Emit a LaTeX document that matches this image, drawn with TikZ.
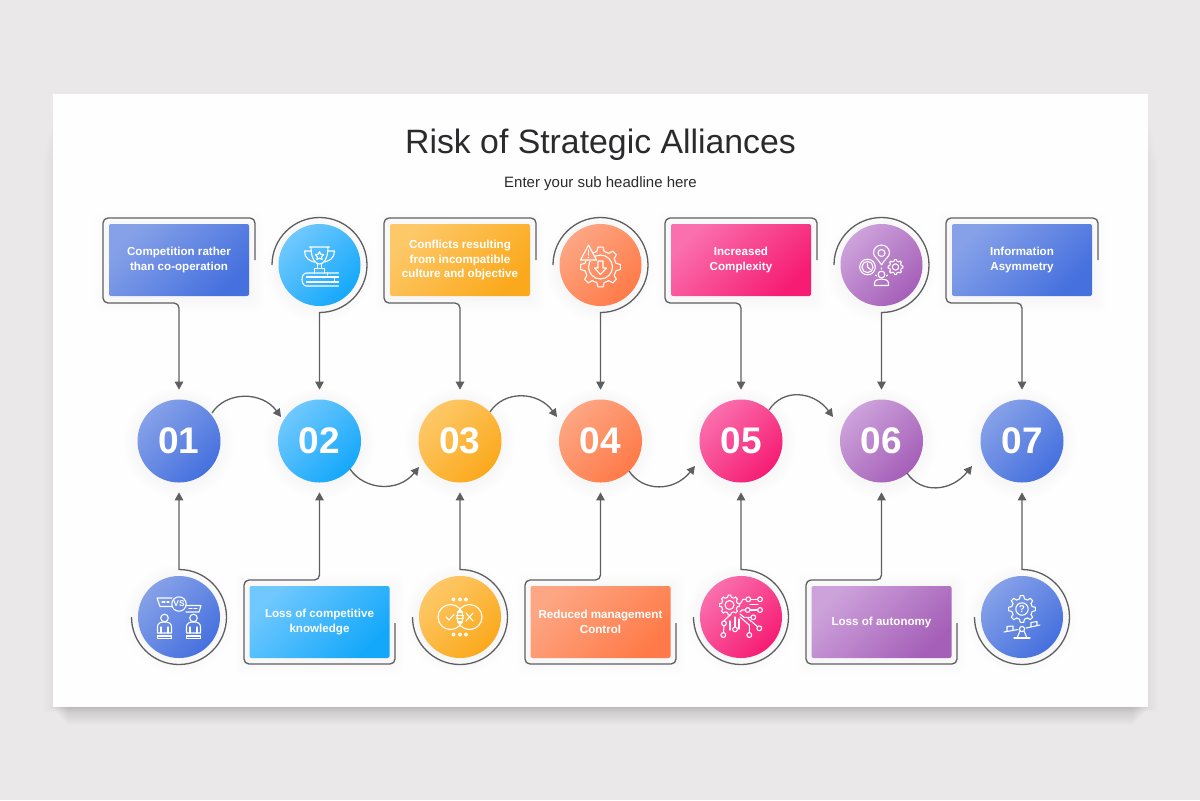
\documentclass[tikz,border=0pt]{standalone}
\usepackage{fontspec}
\setmainfont{Liberation Sans}
\usetikzlibrary{arrows.meta,calc}
\definecolor{bgc}{HTML}{EAE8E9}
\definecolor{linec}{HTML}{5F5F62}
\definecolor{titlec}{HTML}{2B2B2E}
\definecolor{aL}{HTML}{86A1E8}\definecolor{aD}{HTML}{4570DE}
\definecolor{bL}{HTML}{70C8FE}\definecolor{bD}{HTML}{14A8FA}
\definecolor{cL}{HTML}{FDC868}\definecolor{cD}{HTML}{FBA91C}
\definecolor{dL}{HTML}{FDA683}\definecolor{dD}{HTML}{FF7A48}
\definecolor{eL}{HTML}{FA6FAD}\definecolor{eD}{HTML}{F61C74}
\definecolor{fL}{HTML}{CDA2DB}\definecolor{fD}{HTML}{A55FB8}
\tikzset{
 x=0.5pt,y=-0.5pt,
 grad/.style 2 args={top color=#1,bottom color=#2,shading angle=45},
 numc/.style={circle,minimum size=41.5pt,inner sep=0pt,text=white,font=\bfseries\fontsize{18.5}{19}\selectfont},
 iconc/.style={circle,minimum size=41pt,inner sep=0pt},
 boxn/.style={rectangle,minimum width=70pt,minimum height=36pt,inner sep=0pt,rounded corners=1pt,text=white,align=center,font=\bfseries\fontsize{5.8}{7.25}\selectfont},
 conn/.style={draw=linec,line width=0.65pt},
 arr/.style={conn,-{Triangle[length=4pt,width=4.2pt]},shorten >=4.7pt},
 arc2/.style={conn,-{Triangle[length=4pt,width=4.2pt]}},
 ic/.style={draw=white,line width=0.55pt,line join=round,line cap=round},
}
% soft shadow helpers
\newcommand{\shc}[3]{\foreach \k in {1,...,7}{\fill[black,opacity=0.004] (#1,#2+2) circle[radius=#3+2*\k];}}
\newcommand{\shr}[2]{\foreach \k in {1,...,7}{\fill[black,opacity=0.004,rounded corners=2pt] (#1-70-2*\k,#2-36-2*\k+2) rectangle (#1+70+2*\k,#2+36+2*\k+2);}}
% gear: cx cy rOut rIn teeth
\newcommand{\geardraw}[5]{\foreach \i in {1,...,#5}{
 \pgfmathsetmacro{\aa}{\i*360/#5}
 \pgfmathsetmacro{\st}{360/#5}
 \draw[ic] (#1,#2) ++(\aa-0.16*\st:#3) arc[start angle=\aa-0.16*\st,end angle=\aa+0.16*\st,radius=#3] -- ($(#1,#2)+(\aa+0.30*\st:#4)$) arc[start angle=\aa+0.30*\st,end angle=\aa+0.70*\st,radius=#4] -- ($(#1,#2)+(\aa+0.84*\st:#3)$);
}}
\begin{document}
\begin{tikzpicture}
\useasboundingbox (0,0) rectangle (1200,800);
\fill[bgc] (0,0) rectangle (1200,800);
% panel shadow: strong below, faint at the sides, both fading out
\foreach \k in {1,...,18}{\fill[black,opacity=0.008] (50+\k,707) rectangle (1151-\k,707+\k);}
\foreach \k in {1,...,10}{
 \fill[black,opacity=0.003] (53-\k,110+\k*5) rectangle (1148+\k,707+\k*0.5);
}
\fill[white!99.6!black] (53,94) rectangle (1148,707);

\node[text=titlec,font=\fontsize{16.9}{20}\selectfont,inner sep=0pt] (title) at (600.5,145) {Risk of Strategic Alliances};
\node[text=titlec,font=\fontsize{7.5}{9}\selectfont,inner sep=0pt] (sub) at (600.5,184) {Enter your sub headline here};

% shadows
\foreach \x in {179,319.5,460,600.5,741,881.5,1022}{\shc{\x}{441}{41.5}}
\foreach \x in {319.5,600.5,881.5}{\shc{\x}{265}{41}}
\foreach \x in {179,460,741,1022}{\shc{\x}{617}{41}}
\foreach \x in {179,460,741,1022}{\shr{\x}{260}}
\foreach \x in {319.5,600.5,881.5}{\shr{\x}{622}}

% numbered circles
\node[numc,grad={aL}{aD}] (n1) at (179,441) {01};
\node[numc,grad={bL}{bD}] (n2) at (319.5,441) {02};
\node[numc,grad={cL}{cD}] (n3) at (460,441) {03};
\node[numc,grad={dL}{dD}] (n4) at (600.5,441) {04};
\node[numc,grad={eL}{eD}] (n5) at (741,441) {05};
\node[numc,grad={fL}{fD}] (n6) at (881.5,441) {06};
\node[numc,grad={aL}{aD}] (n7) at (1022,441) {07};

% boxes
\node[boxn,grad={aL}{aD}] (b1) at (179,260) {Competition rather\\than co-operation};
\node[boxn,grad={bL}{bD}] (b2) at (319.5,622) {Loss of competitive\\knowledge};
\node[boxn,grad={cL}{cD}] (b3) at (460,260) {Conflicts resulting\\from incompatible\\culture and objective};
\node[boxn,grad={dL}{dD}] (b4) at (600.5,622) {Reduced management\\Control};
\node[boxn,grad={eL}{eD}] (b5) at (741,260) {Increased\\Complexity};
\node[boxn,grad={fL}{fD}] (b6) at (881.5,622) {Loss of autonomy};
\node[boxn,grad={aL}{aD}] (b7) at (1022,260) {Information\\Asymmetry};

% icon circles
\node[iconc,grad={bL}{bD}] (i2) at (319.5,265) {};
\node[iconc,grad={dL}{dD}] (i4) at (600.5,265) {};
\node[iconc,grad={fL}{fD}] (i6) at (881.5,265) {};
\node[iconc,grad={aL}{aD}] (i1) at (179,617) {};
\node[iconc,grad={cL}{cD}] (i3) at (460,617) {};
\node[iconc,grad={eL}{eD}] (i5) at (741,617) {};
\node[iconc,grad={aL}{aD}] (i7) at (1022,617) {};

% framed box connectors
\foreach \b/\n in {b1/n1,b3/n3,b5/n5,b7/n7}{
 \draw[arr,rounded corners=2.5pt] ($(\b)+(76,0)$) -- ($(\b)+(76,-42)$) -- ($(\b)+(-76,-42)$) -- ($(\b)+(-76,43)$) -- ($(\b)+(0,43)$) -- (\n.north);
}
\foreach \b/\n in {b2/n2,b4/n4,b6/n6}{
 \draw[arr,rounded corners=2.5pt] ($(\b)+(75.5,1)$) -- ($(\b)+(75.5,42)$) -- ($(\b)+(-75.5,42)$) -- ($(\b)+(-75.5,-42)$) -- ($(\b)+(0,-42)$) -- (\n.south);
}
% ring connectors
\foreach \i/\n in {i2/n2,i4/n4,i6/n6}{
 \draw[arr] ($(\i)+(-47.5,0)$) arc[start angle=180,end angle=450,radius=47.5] -- (\n.north);
}
\foreach \i/\n in {i1/n1,i3/n3,i5/n5,i7/n7}{
 \draw[arr] ($(\i)+(-47.5,0)$) arc[start angle=180,end angle=-90,radius=47.5] -- (\n.south);
}
% flow connectors
\foreach \a/\b/\sx/\sy/\ex/\ey in {n1/n2/33/-28/-38.5/-24,n3/n4/30/-29/-43.5/-24,n5/n6/28/-31/-48.5/-24}{
 \draw[arc2] ($(\a)+(\sx,\sy)$) .. controls +(14,-22) and +(-19,-26) .. ($(\b)+(\ex,\ey)$);
}
\foreach \a/\b/\sx/\sy/\ex/\ey in {n2/n3/30.5/28/-41/26,n4/n5/28.5/30/-46/25,n6/n7/25.5/32/-50/25}{
 \draw[arc2] ($(\a)+(\sx,\sy)$) .. controls +(14,21) and +(-21,26) .. ($(\b)+(\ex,\ey)$);
}

% --- icon 2 trophy
\begin{scope}[shift={(319.5,265)}]
 \draw[ic] (-10,-18) -- (10,-18) (-8.5,-18) .. controls (-8.5,-6) and (-4,-1) .. (0,-1) .. controls (4,-1) and (8.5,-6) .. (8.5,-18);
 \draw[ic] (-8,-14) -- (-15,-14) .. controls (-15,-7) and (-10,-4) .. (-5,-3);
 \draw[ic] (8,-14) -- (15,-14) .. controls (15,-7) and (10,-4) .. (5,-3);
 \draw[ic] (-2,-1) -- (-2,3) (2,-1) -- (2,3) (-5,8) -- (-5,3.5) -- (5,3.5) -- (5,8);
 \draw[ic] (0,-13.5) -- (1.3,-10.8) -- (4.2,-10.4) -- (2.1,-8.3) -- (2.6,-5.5) -- (0,-6.9) -- (-2.6,-5.5) -- (-2.1,-8.3) -- (-4.2,-10.4) -- (-1.3,-10.8) -- cycle;
 \draw[ic] (19,8) -- (-13,8) .. controls (-19,8) and (-19,21) .. (-13,21) -- (19,21);
 \draw[ic] (-13,12) -- (19,12) (-13,17) -- (19,17) (15,12) -- (15,17) (8,8) -- (8,10);
\end{scope}
% --- icon 1 VS
\begin{scope}[shift={(179,617)}]
 \draw[ic] (0,-13) circle[radius=7.2];
 \node[text=white,font=\bfseries\fontsize{4.2}{4}\selectfont,inner sep=0pt] (vs) at (0,-13) {VS};
 \draw[ic] (-7,-19) -- (-22,-19) -- (-19,-10.5) -- (-7,-10.5);
 \draw[ic] (-17,-15) -- (-14,-15) (-12,-15) -- (-10,-15);
 \draw[ic] (7,-11.5) -- (22,-11.5) -- (20,-5) -- (7,-5);
 \draw[ic] (10,-8.5) -- (13,-8.5) (15,-8.5) -- (18,-8.5);
 \foreach \s/\xx in {1/-14.5,-1/14.5}{
  \draw[ic] (\xx,1) circle[radius=3.8];
  \draw[ic] (\xx-7,16) -- (\xx-7,10) .. controls (\xx-7,6) and (\xx-4,5) .. (\xx,5) .. controls (\xx+4,5) and (\xx+7,6) .. (\xx+7,10) -- (\xx+7,16) -- cycle;
  \draw[ic] (\xx-7,19) rectangle (\xx+7,21.5);
  \draw[ic] (\xx-3.5,10) -- (\xx-3.5,16) (\xx+3.5,10) -- (\xx+3.5,16);
 }
\end{scope}
% --- icon 3 overlap
\begin{scope}[shift={(460,617)}]
 \draw[ic] (-9.5,0) circle[radius=12.5] (9.5,0) circle[radius=12.5];
 \foreach \xx in {-6.5,0,6}{\draw[ic] (\xx,-17.5) circle[radius=1.5] (\xx,17.5) circle[radius=1.5];}
 \draw[ic] (-14,0) -- (-11,3) -- (-6,-2.5);
 \draw[ic] (6,-4) -- (13,4) (13,-4) -- (6,4);
 \draw[ic] (-2.5,-5) -- (2.5,-5) (-3.3,-1.5) -- (3.3,-1.5) (-3.3,1.5) -- (3.3,1.5) (-2.5,5) -- (2.5,5);
\end{scope}
% --- icon 4 gear arrow
\begin{scope}[shift={(600.5,265)}]
 \geardraw{0}{2}{20}{16}{8}
 \draw[ic] (0,2) circle[radius=12];
 \draw[ic] (-2.5,-4) -- (2.5,-4) -- (2.5,3) -- (6,3) -- (0,9.5) -- (-6,3) -- (-2.5,3) -- cycle;
 \fill[dL!75!dD] (-21,-4) -- (-12,-21) -- (-3,-4) -- cycle;
 \draw[ic] (-20,-5) -- (-12,-20) -- (-4,-5) -- cycle;
 \draw[ic] (-12,-15) -- (-12,-10) (-12,-7.5) -- (-12,-7.4);
\end{scope}
% --- icon 5 gear circuit
\begin{scope}[shift={(741,617)}]
 \geardraw{-11.5}{-12}{10}{8}{8}
 \draw[ic] (-11.5,-12) circle[radius=4.5];
 \foreach \p in {(7.3,-17.7),(19,-17.7),(6.7,-7),(19,-7),(12.3,0.3),(18.3,11.3),(8.3,18),(-17,6.3),(-17.7,18),(-6,12.3)}{\draw[ic] \p circle[radius=2.4];}
 \draw[ic] (9.7,-17.7) -- (16.6,-17.7) (9.1,-7) -- (16.6,-7) (9,-12.5) -- (17,-12.5);
 \draw[ic] (4.9,-17.7) -- (2,-17.7) -- (-1,-13);
 \draw[ic] (4.3,-7) -- (1,-7) -- (-1,-5);
 \draw[ic] (9.9,0.3) -- (3,0.3) -- (-1,-3);
 \draw[ic] (16.6,9.6) -- (7,1.5);
 \draw[ic] (8.3,15.6) -- (8.3,8) -- (-1,0);
 \draw[ic] (-17,3.9) -- (-11,-2);
 \draw[ic] (-17.5,15.6) -- (-17,8.7);
 \draw[ic] (-6,9.9) -- (-6,0);
 \draw[ic] (-11,4) -- (-11,13);
 \draw[ic] (-2,12) -- (-2,2);
\end{scope}
% --- icon 6 pin clock gear person
\begin{scope}[shift={(881.5,265)}]
 \draw[ic] (0,0) .. controls (-3,-6) and (-8,-8) .. (-8,-12) arc[start angle=180,end angle=360,radius=8] .. controls (8,-8) and (3,-6) .. (0,0) -- cycle;
 \draw[ic] (0,-12) circle[radius=3.5];
 \draw[ic] (-14,2) circle[radius=7.8] (-14,2) circle[radius=5.6];
 \draw[ic] (-14,-1.5) -- (-14,2) -- (-11,4.5);
 \geardraw{14}{2}{7.5}{6}{8}
 \draw[ic] (14,2) circle[radius=3.2];
 \draw[ic] (0,9.5) circle[radius=3.4];
 \draw[ic] (-7,20.5) -- (-7,18) .. controls (-7,15) and (-3,14) .. (0,14) .. controls (3,14) and (7,15) .. (7,18) -- (7,20.5) -- cycle;
 \draw[ic] (0,3) -- (0,4) (-6,10) -- (-5,11) (6,10) -- (5,11);
\end{scope}
% --- icon 7 gear seesaw
\begin{scope}[shift={(1022,617)}]
 \geardraw{0}{-8}{13.5}{10.5}{8}
 \draw[ic] (0,-8) circle[radius=6.2];
 \node[text=white,font=\bfseries\fontsize{5}{5}\selectfont,inner sep=0pt] (q) at (0,-8) {?};
 \draw[ic] (-18,15) -- (-4,12.5) (4,11) -- (18,8);
 \draw[ic] (-15,14) -- (-15,9.5) -- (-9,9) -- (-9,13) (9,9.5) -- (9,5.5) -- (15,4.5) -- (15,8.5);
 \draw[ic] (0,12) circle[radius=2.6];
 \draw[ic] (-2,14) -- (-5,21) -- (5,21) -- (2,14);
 \draw[ic] (-8,21) -- (8,21);
\end{scope}
\end{tikzpicture}
\end{document}
